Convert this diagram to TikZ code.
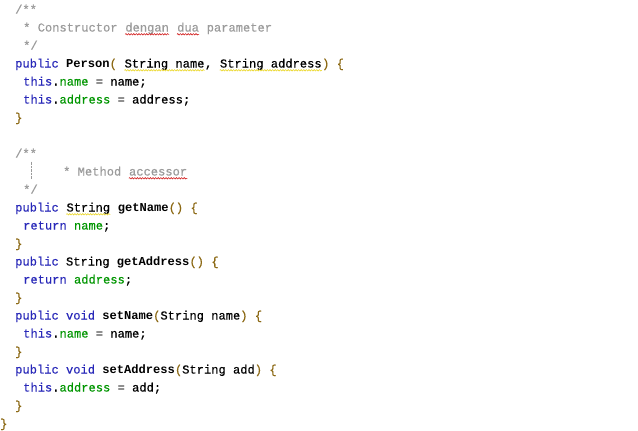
\documentclass[tikz,border=0pt]{standalone}
\usepackage{fontspec}
\setmonofont[FakeBold=0.4,BoldFont={Liberation Mono Bold},BoldFeatures={FakeBold=0}]{Liberation Mono}
\usetikzlibrary{decorations.pathmorphing}
\definecolor{kw}{RGB}{40,40,185}
\definecolor{fld}{RGB}{0,150,0}
\definecolor{cmt}{RGB}{155,155,155}
\definecolor{br}{RGB}{140,105,20}
\definecolor{wred}{RGB}{210,30,30}
\definecolor{wyel}{RGB}{235,215,40}
\newcommand\K[1]{\textcolor{kw}{#1}}
\newcommand\F[1]{\textcolor{fld}{#1}}
\newcommand\B[1]{\textcolor{br}{#1}}
\newcommand\C[1]{\textcolor{cmt}{#1}}
\newcommand\wv[2]{\tikz[baseline=(w.base),x=1pt,y=1pt]{\node[inner sep=0pt,anchor=base west] (w) at (0,0) {#2};
  \draw[#1,line width=0.6pt,decorate,decoration={snake,amplitude=0.7pt,segment length=2.6pt}] ([yshift=-2.8pt]w.base west) -- ([yshift=-2.8pt]w.base east);}}
\begin{document}
\begin{tikzpicture}[x=1pt,y=-1pt,
  ln/.style={anchor=base west,inner sep=0pt,font=\ttfamily\fontsize{12.1}{18}\selectfont}]
\useasboundingbox (0,0) rectangle (638,431);
\fill[white] (0,0) rectangle (638,431);
\newcommand\Y[1]{13.5+18*#1}
\node[ln] (l1) at (15,{\Y{0}}) {\C{/**}};
\node[ln] (l2) at (23,{\Y{1}}) {\C{* Constructor \wv{wred}{dengan} \wv{wred}{dua} parameter}};
\node[ln] (l3) at (23,{\Y{2}}) {\C{*/}};
\node[ln] (l4) at (15,{\Y{3}}) {\K{public} \textbf{Person}\B{(} \wv{wyel}{String~name}, \wv{wyel}{String~address}\B{)} \B{\{}};
\node[ln] (l5) at (23,{\Y{4}}) {\K{this}.\F{name} = name;};
\node[ln] (l6) at (23,{\Y{5}}) {\K{this}.\F{address} = address;};
\node[ln] (l7) at (15,{\Y{6}}) {\B{\}}};
\node[ln] (l9) at (15,{\Y{8}}) {\C{/**}};
\draw[cmt,densely dotted] (31,{\Y{8}+4}) -- (31,{\Y{9}+4});
\node[ln] (l10) at (63,{\Y{9}}) {\C{* Method \wv{wred}{accessor}}};
\node[ln] (l11) at (23,{\Y{10}}) {\C{*/}};
\node[ln] (l12) at (15,{\Y{11}}) {\K{public} \wv{wyel}{String} \textbf{getName}\B{()} \B{\{}};
\node[ln] (l13) at (23,{\Y{12}}) {\K{return} \F{name};};
\node[ln] (l14) at (15,{\Y{13}}) {\B{\}}};
\node[ln] (l15) at (15,{\Y{14}}) {\K{public} String \textbf{getAddress}\B{()} \B{\{}};
\node[ln] (l16) at (23,{\Y{15}}) {\K{return} \F{address};};
\node[ln] (l17) at (15,{\Y{16}}) {\B{\}}};
\node[ln] (l18) at (15,{\Y{17}}) {\K{public} \K{void} \textbf{setName}\B{(}String name\B{)} \B{\{}};
\node[ln] (l19) at (23,{\Y{18}}) {\K{this}.\F{name} = name;};
\node[ln] (l20) at (15,{\Y{19}}) {\B{\}}};
\node[ln] (l21) at (15,{\Y{20}}) {\K{public} \K{void} \textbf{setAddress}\B{(}String add\B{)} \B{\{}};
\node[ln] (l22) at (23,{\Y{21}}) {\K{this}.\F{address} = add;};
\node[ln] (l23) at (15,{\Y{22}}) {\B{\}}};
\node[ln] (l24) at (0,{\Y{23}}) {\B{\}}};
\end{tikzpicture}
\end{document}
